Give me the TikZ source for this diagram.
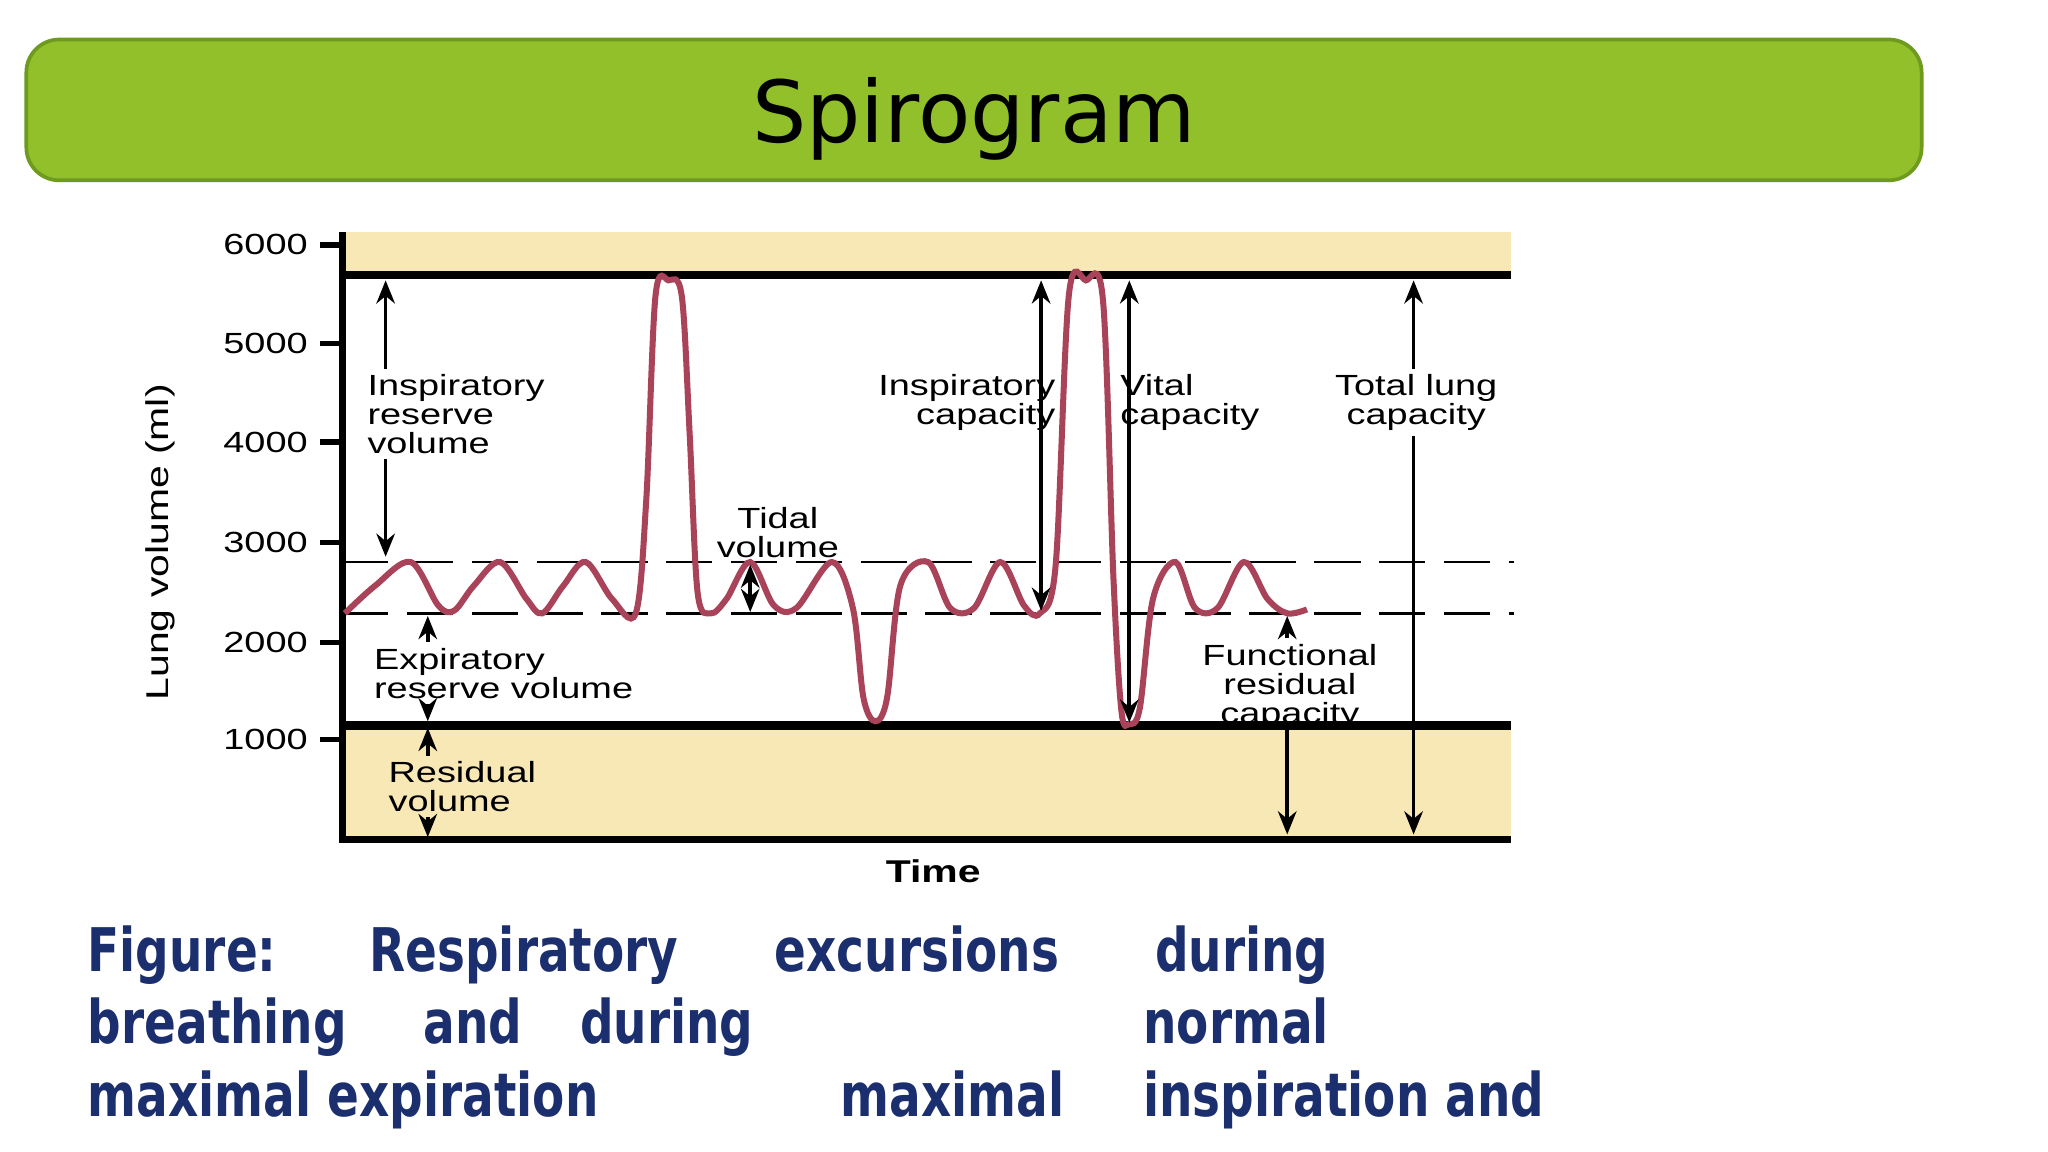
\documentclass[tikz,border=0pt]{standalone}
\usepackage{fontspec}
\setmainfont{Liberation Sans}
\newfontfamily\chartfont[FakeStretch=1.3]{Liberation Sans}
\newfontfamily\titlefont{DejaVu Sans}
\newfontfamily\capfont[FakeStretch=0.78]{DejaVu Sans}
\usetikzlibrary{arrows.meta}
\definecolor{tgreen}{HTML}{92C02A}
\definecolor{tgreenb}{HTML}{6E9A1E}
\definecolor{beige}{HTML}{F7E8B5}
\definecolor{curve}{HTML}{A8435A}
\definecolor{navy}{HTML}{1B2F6E}
\tikzset{
  lbl/.style={font=\chartfont\fontsize{6.3}{6.3}\selectfont, inner sep=1pt, align=left},
  arr/.style={-{Stealth[length=5pt,width=4pt]}, line width=0.8pt},
  darr/.style={{Stealth[length=5pt,width=4pt]}-{Stealth[length=5pt,width=4pt]}, line width=0.8pt},
  captxt/.style={font=\capfont\bfseries\fontsize{13}{15}\selectfont, text=navy, anchor=base west, inner sep=0pt},
  ytick/.style={font=\chartfont\fontsize{6.3}{7}\selectfont, anchor=east, inner sep=1pt},
}
\begin{document}
\begin{tikzpicture}[x=0.01cm,y=-0.01cm]
\useasboundingbox (0,0) rectangle (1556,875);
\fill[white] (0,0) rectangle (1556,875);
% title
\draw[fill=tgreen, draw=tgreenb, line width=0.8pt, rounded corners=0.25cm] (20,30) rectangle (1460,137);
\node[font=\titlefont\fontsize{18.5}{22}\selectfont, anchor=base] (title) at (740,108) {Spirogram};
% bands
\fill[beige] (260,176) rectangle (1148,209);
\fill[beige] (260,551) rectangle (1148,638);
\draw[line width=1.6pt] (260,209) -- (1148,209);
\draw[line width=2pt] (260,551) -- (1148,551);
\draw[line width=1.6pt] (260,176) -- (260,638) -- (1148,638);
\draw[dashed, dash pattern=on 10pt off 4pt, line width=0.5pt] (260,427) -- (1150,427);
\draw[dashed, dash pattern=on 10pt off 4pt, line width=0.5pt] (260,466) -- (1150,466);
% ticks
\foreach \v/\y in {6000/186,5000/261,4000/336,3000/412,2000/488,1000/562}{
  \draw[line width=1.2pt] (243,\y) -- (260,\y);
  \node[ytick] (t\v) at (238,\y) {\v};
}
\node[font=\chartfont\fontsize{6.8}{8}\selectfont, rotate=90] (ylab) at (122,412) {Lung volume (ml)};
\node[font=\chartfont\bfseries\fontsize{6.8}{8}\selectfont] (time) at (709,662) {Time};
% curve
\draw[curve, line width=1.3pt] plot[smooth, tension=0.55] coordinates {
(262,466) (285,445) (312,427) (333,460) (345,464) (360,445) (380,427) (400,455) (412,466) (428,445) (445,427) (465,455) (483,466)
(491,380) (498,225) (508,213) (518,225) (524,330) (530,450) (540,466) (552,455) (570,427) (588,460) (605,462) (632,427) (648,462)
(656,530) (665,548) (674,530) (684,445) (705,427) (722,462) (740,462) (760,427) (778,460) (790,466) (802,430)
(812,225) (825,213) (838,228) (846,440) (852,540) (858,550) (866,538) (876,455) (893,427) (908,462) (925,462) (945,427) (963,455) (978,466) (993,463)};
% labels
\node[lbl, anchor=north west] (irv) at (275,280) {Inspiratory\\reserve\\volume};
\node[lbl, anchor=north west] (erv) at (280,488) {Expiratory\\reserve volume};
\node[lbl, anchor=north west] (rv) at (291,574) {Residual\\volume};
\node[lbl, anchor=north, align=center] (tv) at (591,381) {Tidal\\volume};
\node[lbl, anchor=north east, align=right] (ic) at (806,280) {Inspiratory\\capacity};
\node[lbl, anchor=north west] (vc) at (847,280) {Vital\\capacity};
\node[lbl, anchor=north, align=center, fill=white] (tlc) at (1076,280) {Total lung\\capacity};
\node[lbl, anchor=north, align=center] (frc) at (980,485) {Functional\\residual\\capacity};
% coordinates
\coordinate (irvT) at (293,213); \coordinate (irvB) at (293,423);
\coordinate (ervT) at (325,468); \coordinate (ervB) at (325,548);
\coordinate (rvT) at (325,553); \coordinate (rvB) at (325,636);
\coordinate (tvT) at (570,429); \coordinate (tvB) at (570,465);
\coordinate (icT) at (791,213); \coordinate (icB) at (791,464);
\coordinate (vcT) at (858,213); \coordinate (vcB) at (858,549);
\coordinate (tlcT) at (1074,213); \coordinate (tlcB) at (1074,634);
\coordinate (frcT) at (978,468); \coordinate (frcM) at (978,551); \coordinate (frcB) at (978,634);
% arrows
\draw[arr] (irv.north -| irvT) -- (irvT);
\draw[arr] (irv.south -| irvT) -- (irvB);
\draw[arr] (erv.north -| ervT) -- (ervT);
\draw[arr] (erv.south -| ervT) -- (ervB);
\draw[arr] (rv.north -| rvT) -- (rvT);
\draw[arr] (rv.south -| rvT) -- (rvB);
\draw[darr] (tvT) -- (tvB);
\draw[darr] (icT) -- (icB);
\draw[darr] (vcT) -- (vcB);
\draw[arr] (tlc.north -| tlcT) -- (tlcT);
\draw[arr] (tlc.south -| tlcT) -- (tlcB);
\draw[arr] (frc.north -| frcT) -- (frcT);
\draw[arr] (frcM) -- (frcB);
% caption
\node[captxt] (c1) at (66,738) {Figure:};
\node[captxt] (c2) at (280,738) {Respiratory};
\node[captxt] (c3) at (588,738) {excursions};
\node[captxt] (c4) at (877,738) {during};
\node[captxt] (c5) at (66,793) {breathing};
\node[captxt] (c6) at (321,793) {and};
\node[captxt] (c7) at (440,793) {during};
\node[captxt] (c8) at (868,793) {normal};
\node[captxt] (c9) at (66,848) {maximal expiration};
\node[captxt] (c10) at (638,848) {maximal};
\node[captxt] (c11) at (868,848) {inspiration and};
\end{tikzpicture}
\end{document}
